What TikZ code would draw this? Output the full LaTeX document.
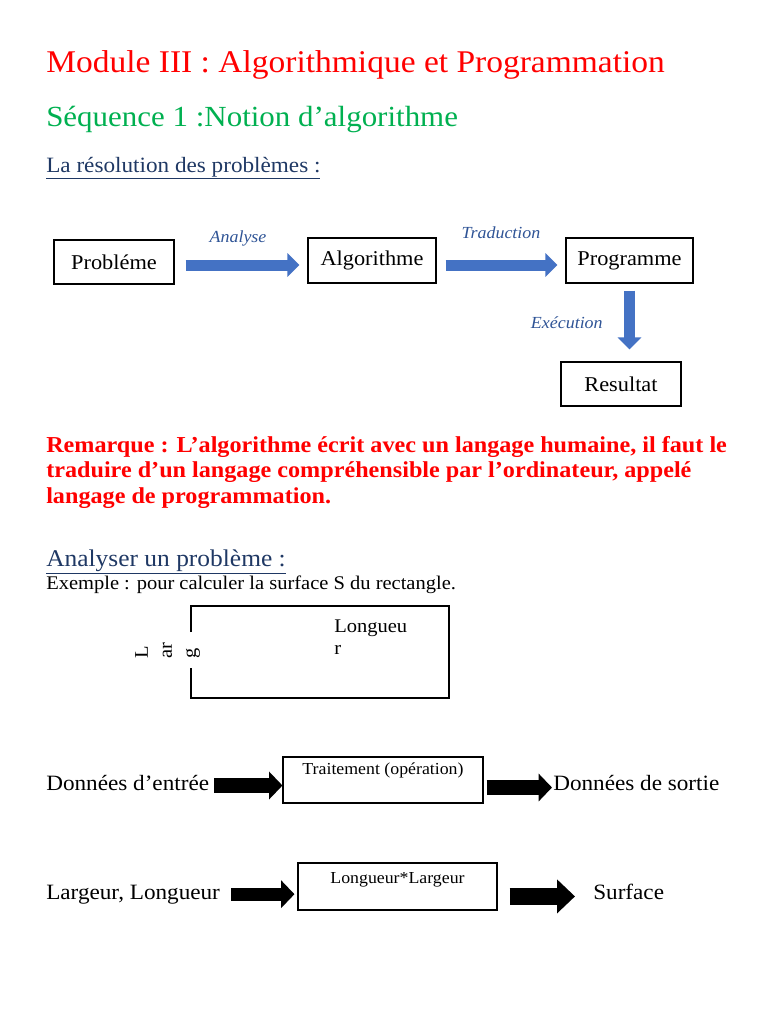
\documentclass[tikz,border=0pt]{standalone}
\usepackage{fontspec}
\setmainfont[FakeStretch=1.06]{Liberation Serif}
\usetikzlibrary{arrows.meta,positioning,calc}

\definecolor{titlered}{RGB}{255,0,0}
\definecolor{seqgreen}{RGB}{0,176,80}
\definecolor{headnavy}{RGB}{31,56,100}
\definecolor{labelblue}{RGB}{47,84,150}
\definecolor{arrowblue}{RGB}{68,114,196}

\tikzset{
  txt/.style={inner sep=0pt, anchor=base west},
  procbox/.style={draw, line width=0.8pt, minimum width=90pt, minimum height=33pt,
    font=\fontsize{15.8}{19}\selectfont},
  opbox/.style={draw, line width=0.8pt, minimum width=150pt, minimum height=34.5pt},
  optext/.style={anchor=base, inner sep=0pt, font=\fontsize{12.6}{15}\selectfont},
  steplabel/.style={inner sep=0pt, text=labelblue, font=\fontsize{12.7}{15}\selectfont\itshape},
  bluearrow/.style={draw=arrowblue, line width=8.25pt, -{Triangle[length=9pt,width=17.25pt]}},
  blackarrow/.style={line width=11.25pt, -{Triangle[length=10pt,width=20.25pt]}},
  bigarrow/.style={line width=12.75pt, -{Triangle[length=13.5pt,width=24.75pt]}},
}

\begin{document}
\begin{tikzpicture}[x=0.75pt, y=-0.75pt]
  \useasboundingbox (0,0) rectangle (768,1024);

  % headings
  \node[txt, text=titlered, font=\fontsize{23.7}{28}\selectfont] (title) at (46,73)
    {Module III : Algorithmique et Programmation};
  \node[txt, text=seqgreen, font=\fontsize{21.9}{26}\selectfont] (seq) at (46,127)
    {Séquence 1 :Notion d’algorithme};
  \node[txt, text=headnavy, font=\fontsize{16.4}{20}\selectfont] (resol) at (46,172)
    {\underline{La résolution des problèmes :}};

  % chain probleme -> resultat
  \node[procbox] (prob) at (114,262) {Probléme};
  \node[procbox, minimum width=96pt, minimum height=33.75pt] (algo) at (372,260.5) {Algorithme};
  \node[procbox, minimum width=95.25pt, minimum height=33.75pt] (prog) at (629.5,260.5) {Programme};
  \node[procbox] (res) at (621,384) {Resultat};

  \draw[bluearrow, shorten <=8.25pt, shorten >=6pt] ([yshift=-2.25pt]prob.east) -- ([yshift=-2.25pt]prob.east -| algo.west)
    node[steplabel, midway, above=9.75pt, xshift=-2.25pt] {Analyse};
  \draw[bluearrow, shorten <=6.75pt, shorten >=6pt] ([yshift=-3.4pt]algo.east) -- ([yshift=-3.4pt]algo.east -| prog.west)
    node[steplabel, midway, above=15.75pt] {Traduction};
  \draw[bluearrow, shorten <=5.25pt, shorten >=9pt] (prog.south) -- (prog.south |- res.north)
    node[steplabel, midway, left=16pt] {Exécution};

  % remarque
  \node[anchor=north west, inner sep=0pt, align=left, text=titlered,
    font=\fontsize{17.1}{19.1}\selectfont\bfseries] (rem) at (46,436)
    {Remarque : L’algorithme écrit avec un langage humaine, il faut le\\
     traduire d’un langage compréhensible par l’ordinateur, appelé\\
     langage de programmation.};

  % exemple du rectangle
  \node[txt, text=headnavy, font=\fontsize{18}{21}\selectfont] (analy) at (46,566)
    {\underline{Analyser un problème :}};
  \node[txt, font=\fontsize{14.5}{18}\selectfont] (ex) at (46,589)
    {Exemple : pour calculer la surface S du rectangle.};
  \draw[line width=0.9pt] (191,632) -- (191,606) -- (449,606) -- (449,698) -- (191,698) -- (191,668);
  \node[inner sep=0pt, anchor=north west, align=left, font=\fontsize{14.5}{16.5}\selectfont] (longu) at (334,620)
    {Longueu\\r};
  \node[inner sep=0pt, anchor=north west, rotate=90, align=left, font=\fontsize{14.5}{18}\selectfont] (larg) at (135,659)
    {L\\ar\\g};

  % entree -> traitement -> sortie
  \node[txt, font=\fontsize{16.4}{20}\selectfont] (inp) at (46,790) {Données d’entrée};
  \node[opbox] (trait) at (383,780) {};
  \node[optext] (traitlbl) at ([yshift=-13.5pt]trait.north) {Traitement (opération)};
  \node[txt, font=\fontsize{16.4}{20}\selectfont] (outp) at (553,790) {Données de sortie};
  \draw[blackarrow, shorten <=3.75pt] ([yshift=-2.25pt]inp.east) -- ([yshift=-2.25pt]inp.east -| trait.west);
  \draw[blackarrow, shorten <=2.25pt, shorten >=0.75pt] ([yshift=-3.75pt]outp.west -| trait.east) -- ([yshift=-3.75pt]outp.west);

  % largeur, longueur -> surface
  \node[txt, font=\fontsize{16.4}{20}\selectfont] (lwin) at (46,899) {Largeur, Longueur};
  \node[opbox, minimum width=149.25pt, minimum height=35.25pt] (lw) at (397.5,886.5) {};
  \node[optext] (lwlbl) at ([yshift=-15.75pt]lw.north) {Longueur*Largeur};
  \node[txt, font=\fontsize{16.4}{20}\selectfont] (surf) at (593,899) {Surface};
  \draw[blackarrow, line width=9.75pt, shorten <=8.25pt, shorten >=2.25pt] (lwin.east) -- (lwin.east -| lw.west);
  \draw[bigarrow, shorten <=9pt, shorten >=13.5pt] ([yshift=-3.75pt]surf.west -| lw.east) -- ([yshift=-3.75pt]surf.west);
\end{tikzpicture}
\end{document}
